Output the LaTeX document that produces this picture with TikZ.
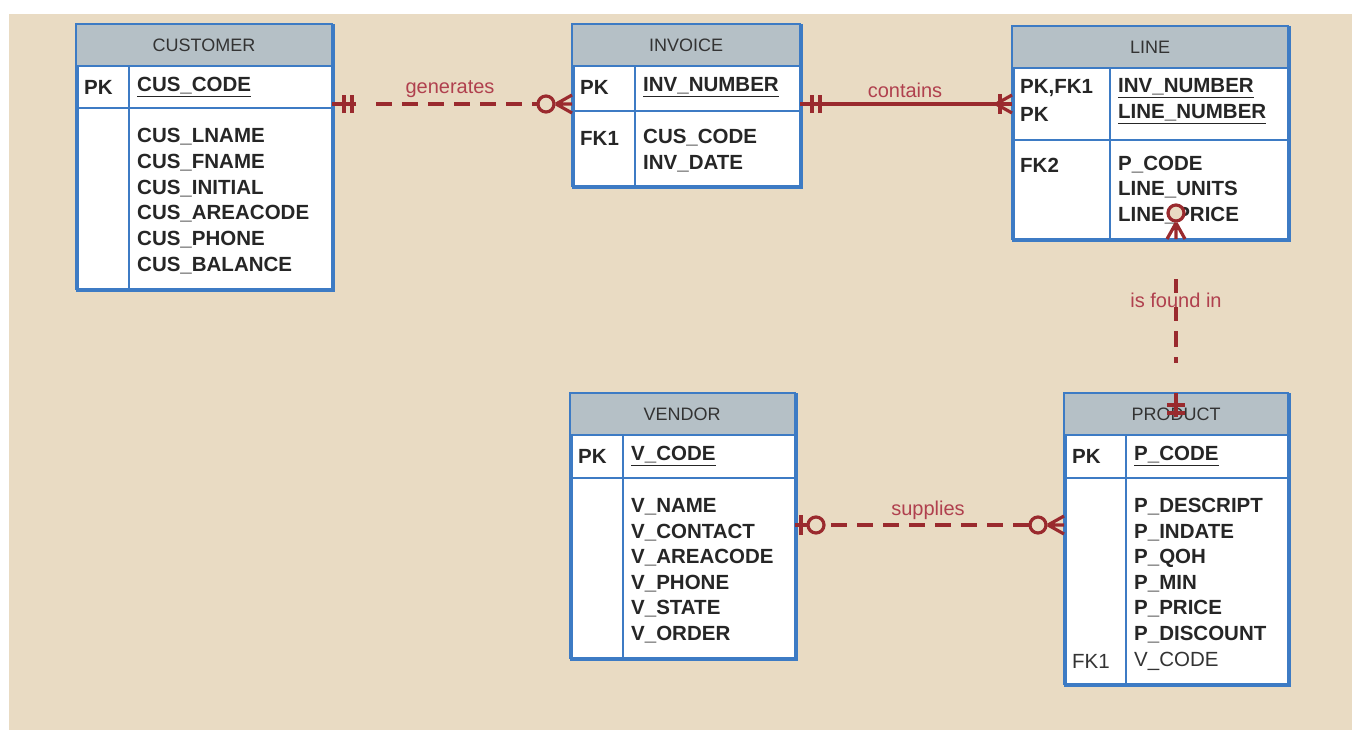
\documentclass[tikz,border=0pt]{standalone}
\usepackage{fontspec}
\setmainfont{Liberation Sans}
\begin{document}
\begin{tikzpicture}[x=1pt,y=-1pt,
  bord/.style={draw=blueB,line width=2.8pt},
  hdr/.style={fill=hdrG},
  ttl/.style={font=\fontsize{18}{18}\selectfont,text=black!80,anchor=center},
  attr/.style={font=\fontsize{20.5}{20.5}\selectfont\bfseries,text=black!85,anchor=west,inner sep=0},
  attrn/.style={font=\fontsize{20.5}{20.5}\selectfont,text=black!80,anchor=west,inner sep=0},
  rel/.style={font=\fontsize{20}{20}\selectfont,text=relT,inner sep=1pt},
  con/.style={draw=redC,line width=3.2pt},
  dsh/.style={con,dash pattern=on 16pt off 10pt},
  manyopt/.pic={\draw[con] (-16,0)--(0,0) (-16,0)--(0,9) (-16,0)--(0,-9);
     \draw[con,fill=bgB] (-26,0) circle (8);},
  onemand/.pic={\draw[con] (-24,0)--(0,0) (-12,-9)--(-12,9) (-20,-9)--(-20,9);},
  oneopt/.pic={\draw[con] (-30,0)--(0,0) (-6,-10)--(-6,10); \draw[con,fill=bgB] (-21,0) circle (8);},
  onebar/.pic={\draw[con] (-20,0)--(0,0) (-12,-10)--(-12,10);}
]
\definecolor{bgB}{HTML}{E9DBC3}
\definecolor{hdrG}{HTML}{B5C0C6}
\definecolor{blueB}{HTML}{3D7BC4}
\definecolor{redC}{HTML}{9A2A2E}
\definecolor{relT}{HTML}{B0404E}
\useasboundingbox (0,0) rectangle (1372,740);
\fill[white] (0,0) rectangle (1372,740);
\fill[bgB] (9,14) rectangle (1352,730);

% CUSTOMER
\node[bord,fill=white,minimum width=256pt,minimum height=265pt,anchor=north west,inner sep=0] (cust) at (76,24) {};
\fill[hdr] (76,24) rectangle (332,66);
\draw[bord] (76,24) rectangle (332,289) (76,66)--(332,66) (76,108)--(332,108) (129,66)--(129,289);
\node[ttl] (custt) at (204,45) {CUSTOMER};
\node[attr] (c1) at (84,87) {PK};
\node[attr] (c2) at (137,87) {\underline{CUS\_CODE}};
\node[attr] (c3) at (137,137) {CUS\_LNAME};
\node[attr] (c4) at (137,163) {CUS\_FNAME};
\node[attr] (c5) at (137,189) {CUS\_INITIAL};
\node[attr] (c6) at (137,214) {CUS\_AREACODE};
\node[attr] (c7) at (137,240) {CUS\_PHONE};
\node[attr] (c8) at (137,266) {CUS\_BALANCE};

% INVOICE
\node[bord,fill=white,minimum width=228pt,minimum height=162pt,anchor=north west,inner sep=0] (inv) at (572,24) {};
\fill[hdr] (572,24) rectangle (800,66);
\draw[bord] (572,24) rectangle (800,186) (572,66)--(800,66) (572,111)--(800,111) (635,66)--(635,186);
\node[ttl] (invt) at (686,45) {INVOICE};
\node[attr] (i1) at (580,87) {PK};
\node[attr] (i2) at (643,87) {\underline{INV\_NUMBER}};
\node[attr] (i3) at (580,138) {FK1};
\node[attr] (i4) at (643,138) {CUS\_CODE};
\node[attr] (i5) at (643,164) {INV\_DATE};

% LINE
\node[bord,fill=white,minimum width=276pt,minimum height=213pt,anchor=north west,inner sep=0] (line) at (1012,26) {};
\fill[hdr] (1012,26) rectangle (1288,68);
\draw[bord] (1012,26) rectangle (1288,239) (1012,68)--(1288,68) (1012,140)--(1288,140) (1110,68)--(1110,239);
\node[ttl] (linet) at (1150,47) {LINE};
\node[attr] (l1) at (1020,88) {PK,FK1};
\node[attr] (l2) at (1020,114) {PK};
\node[attr] (l3) at (1118,88) {\underline{INV\_NUMBER}};
\node[attr] (l4) at (1118,114) {\underline{LINE\_NUMBER}};
\node[attr] (l5) at (1020,165) {FK2};
\node[attr] (l6) at (1118,165) {P\_CODE};
\node[attr] (l7) at (1118,190) {LINE\_UNITS};
\node[attr] (l8) at (1118,216) {LINE\_PRICE};

% VENDOR
\node[bord,fill=white,minimum width=225pt,minimum height=265pt,anchor=north west,inner sep=0] (ven) at (570,393) {};
\fill[hdr] (570,393) rectangle (795,435);
\draw[bord] (570,393) rectangle (795,658) (570,435)--(795,435) (570,478)--(795,478) (623,435)--(623,658);
\node[ttl] (vent) at (682,414) {VENDOR};
\node[attr] (v1) at (578,456) {PK};
\node[attr] (v2) at (631,456) {\underline{V\_CODE}};
\node[attr] (v3) at (631,507) {V\_NAME};
\node[attr] (v4) at (631,533) {V\_CONTACT};
\node[attr] (v5) at (631,558) {V\_AREACODE};
\node[attr] (v6) at (631,584) {V\_PHONE};
\node[attr] (v7) at (631,609) {V\_STATE};
\node[attr] (v8) at (631,635) {V\_ORDER};

% PRODUCT
\node[bord,fill=white,minimum width=224pt,minimum height=291pt,anchor=north west,inner sep=0] (prod) at (1064,393) {};
\fill[hdr] (1064,393) rectangle (1288,435);
\draw[bord] (1064,393) rectangle (1288,684) (1064,435)--(1288,435) (1064,478)--(1288,478) (1126,435)--(1126,684);
\node[ttl] (prodt) at (1176,414) {PRODUCT};
\node[attr] (p1) at (1072,456) {PK};
\node[attr] (p2) at (1134,456) {\underline{P\_CODE}};
\node[attr] (p3) at (1134,507) {P\_DESCRIPT};
\node[attr] (p4) at (1134,533) {P\_INDATE};
\node[attr] (p5) at (1134,558) {P\_QOH};
\node[attr] (p6) at (1134,584) {P\_MIN};
\node[attr] (p7) at (1134,609) {P\_PRICE};
\node[attr] (p8) at (1134,635) {P\_DISCOUNT};
\node[attrn] (p9) at (1072,661) {FK1};
\node[attrn] (p10) at (1134,661) {V\_CODE};

% connectors
\coordinate (g1) at (332,104); \coordinate (g2) at (572,104);
\coordinate (k1) at (800,104); \coordinate (k2) at (1012,104);
\coordinate (f1) at (1176,239); \coordinate (f2) at (1176,393);
\coordinate (s1) at (795,525); \coordinate (s2) at (1064,525);

\draw[dsh] ([xshift=44pt]g1) -- ([xshift=-34pt]g2);
\pic at (g1) [rotate=180] {onemand};
\pic at (g2) {manyopt};
\node[rel] (gl) at (450,89) {generates};

\draw[con] (k1) -- (k2);
\pic at (k1) [rotate=180] {onemand};
\pic at (k2) {onebar};
\draw[con] ([xshift=-16pt]k2) -- ([yshift=-9pt]k2) ([xshift=-16pt]k2) -- ([yshift=9pt]k2);
\node[rel] (kl) at (905,90) {contains};

\draw[dsh] ([yshift=-40pt]f1) -- ([yshift=30pt]f2);
\pic at (f1) [rotate=-90] {manyopt};
\pic at (f2) [rotate=90] {onemand};
\node[rel,fill=bgB,inner sep=0pt] (fl) at (1176,300) {is found in};

\draw[dsh] ([xshift=36pt]s1) -- ([xshift=-34pt]s2);
\pic at (s1) [rotate=180] {oneopt};
\pic at (s2) {manyopt};
\node[rel] (sl) at (928,510) {supplies};
\end{tikzpicture}
\end{document}
